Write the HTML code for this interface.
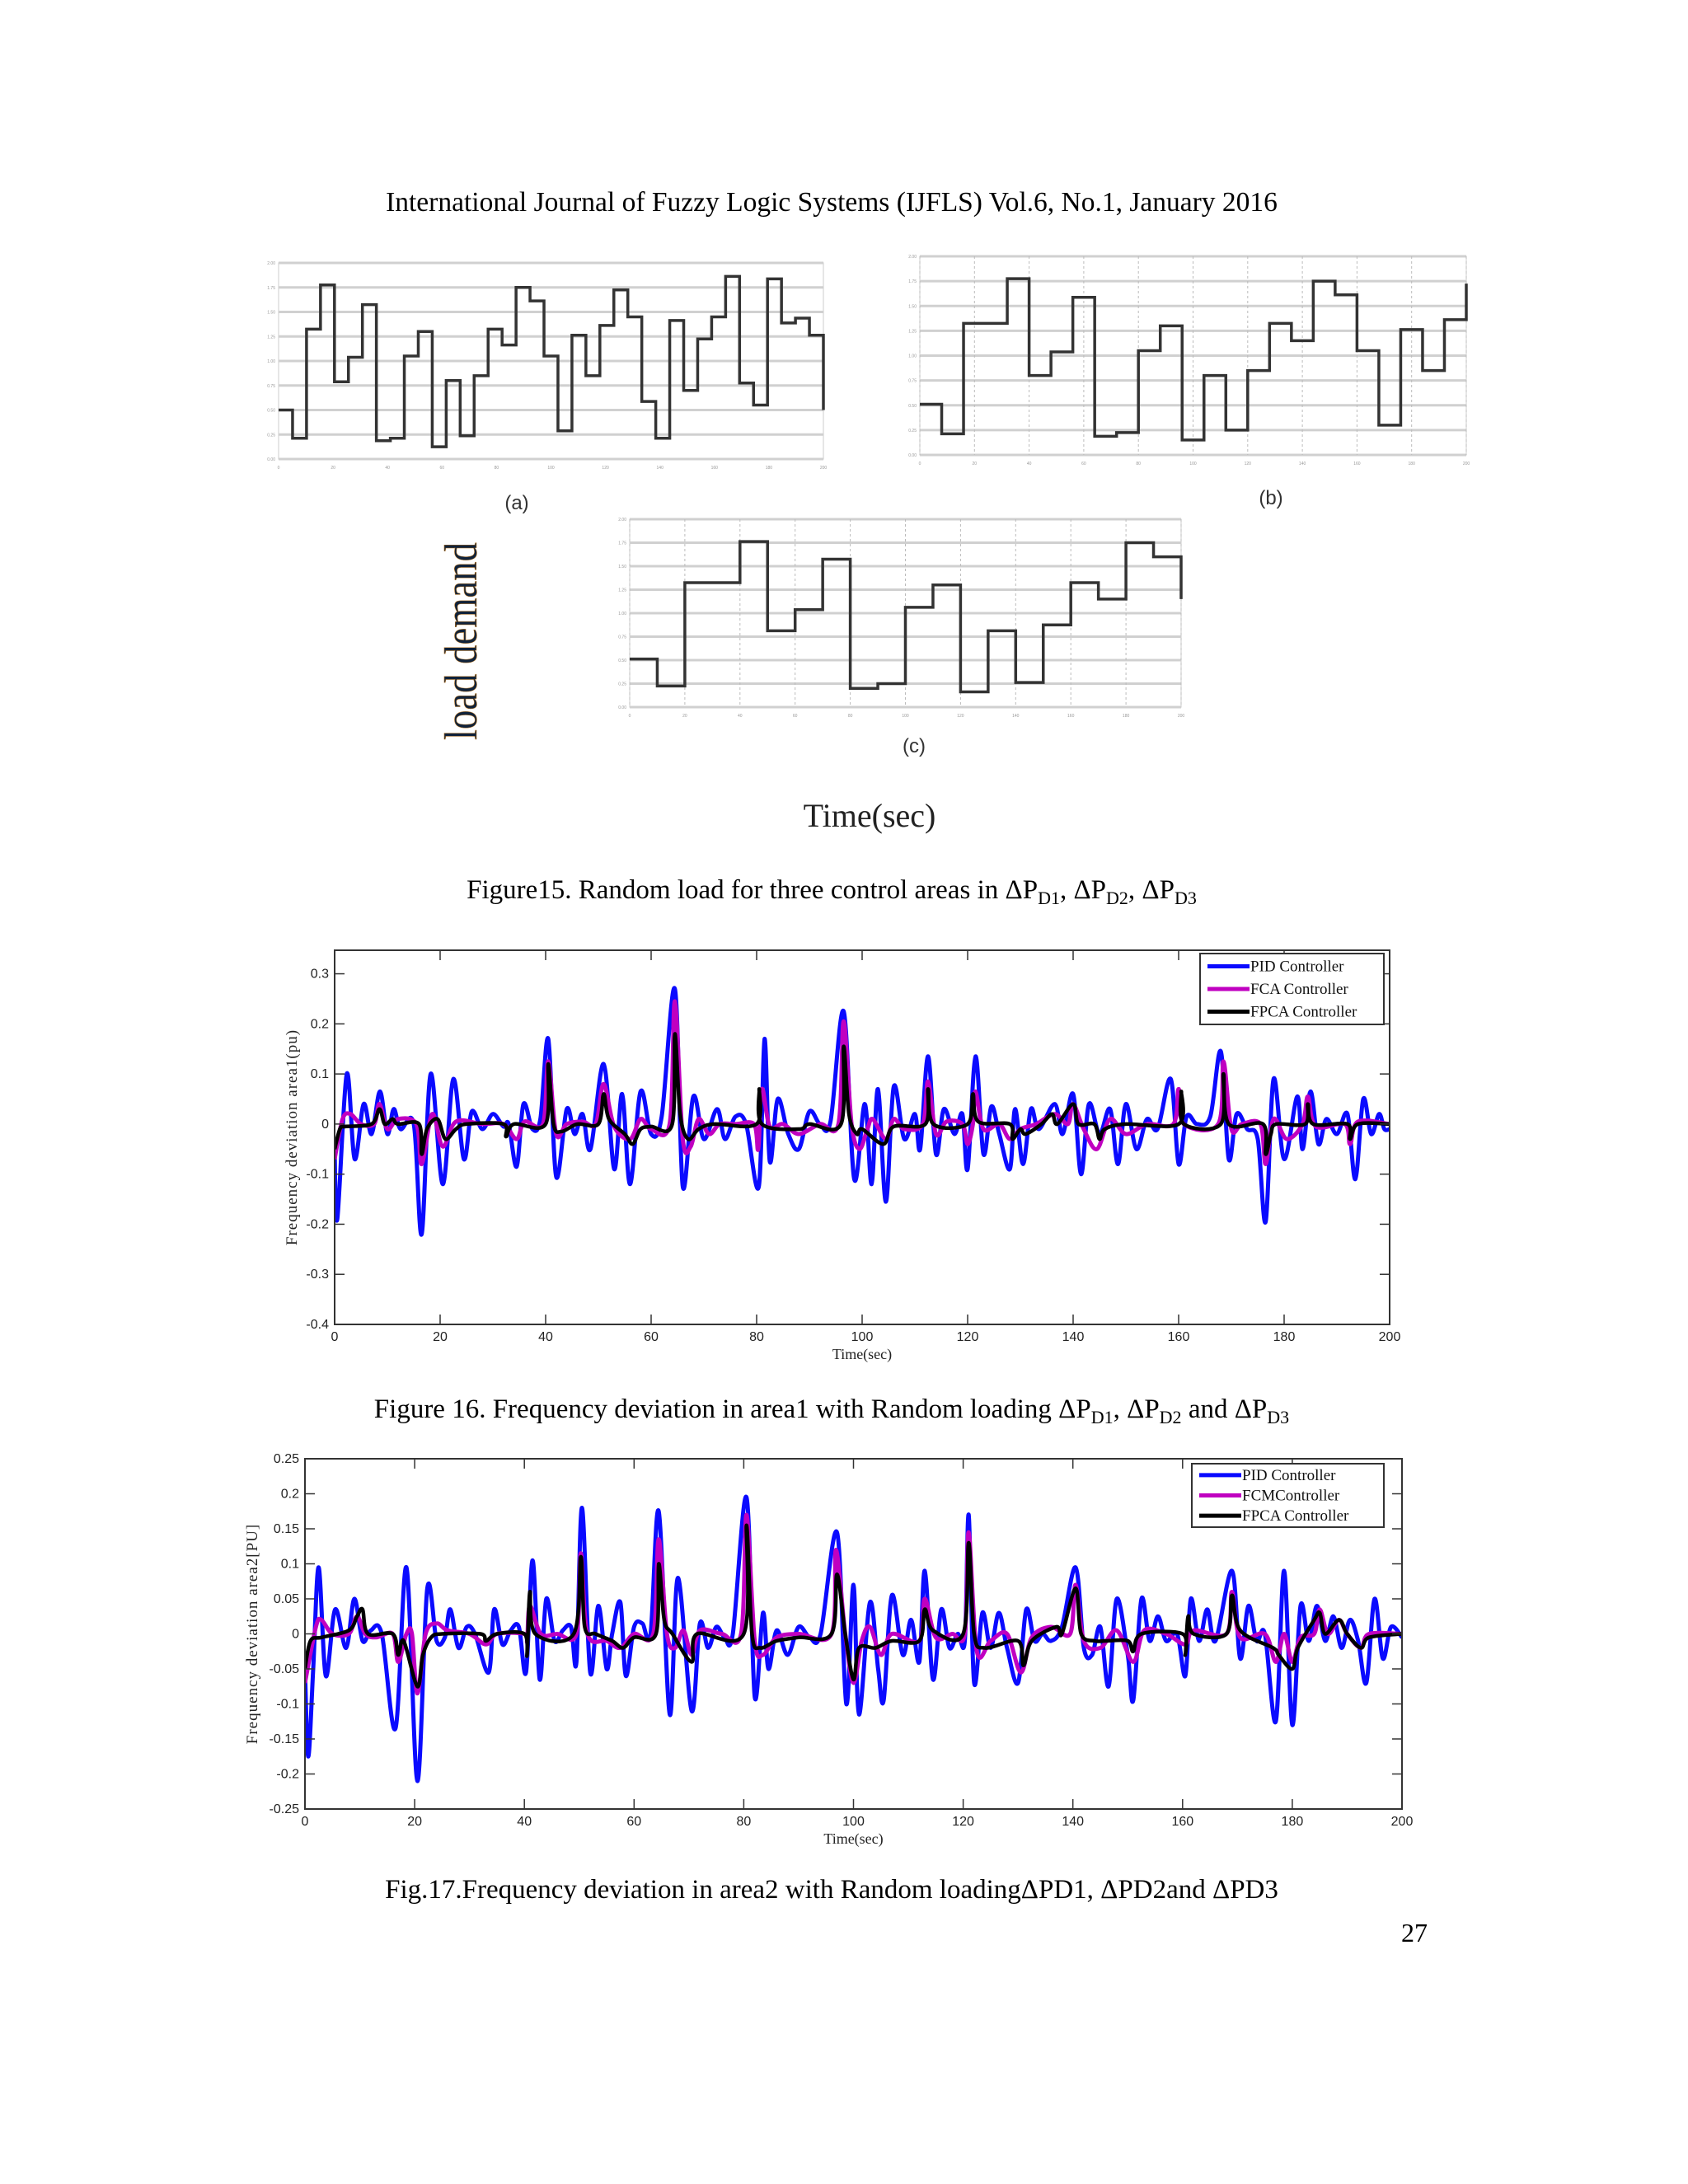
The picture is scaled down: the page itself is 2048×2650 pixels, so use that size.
<!DOCTYPE html>
<html><head><meta charset="utf-8"><style>
html,body{margin:0;padding:0;background:#fff;}
svg{display:block;}
.serif{font-family:"Liberation Serif",serif;}
.sans{font-family:"Liberation Sans",sans-serif;}
</style></head><body>
<svg id="page" width="2048" height="2650" viewBox="0 0 2048 2650" xmlns="http://www.w3.org/2000/svg">
<rect width="2048" height="2650" fill="#fff"/>
<text class="serif" x="1009" y="256" font-size="33.5" text-anchor="middle" fill="#000">International Journal of Fuzzy Logic Systems (IJFLS) Vol.6, No.1, January 2016</text>
<g id="fig15"></g>
<text class="serif" transform="translate(578,778) rotate(-90)" font-size="56" text-anchor="middle" fill="#10223a" stroke="#b07020" stroke-width="0.6" textLength="240" lengthAdjust="spacingAndGlyphs">load demand</text>
<text class="serif" x="1055" y="1003" font-size="40" text-anchor="middle" fill="#222">Time(sec)</text>
<text class="serif" x="1009" y="1090" font-size="33" text-anchor="middle">Figure15. Random load for three control areas in ΔP<tspan font-size="22" dy="7">D1</tspan><tspan dy="-7">, ΔP</tspan><tspan font-size="22" dy="7">D2</tspan><tspan dy="-7">, ΔP</tspan><tspan font-size="22" dy="7">D3</tspan></text>
<g id="fig16"></g>
<text class="serif" x="1009" y="1720" font-size="33" text-anchor="middle">Figure 16. Frequency deviation in area1 with Random loading ΔP<tspan font-size="22" dy="7">D1</tspan><tspan dy="-7">, ΔP</tspan><tspan font-size="22" dy="7">D2</tspan><tspan dy="-7"> and ΔP</tspan><tspan font-size="22" dy="7">D3</tspan></text>
<g id="fig17"></g>
<text class="serif" x="1009" y="2303" font-size="33" text-anchor="middle">Fig.17.Frequency deviation in area2 with Random loadingΔPD1, ΔPD2and ΔPD3</text>
<text class="serif" x="1716" y="2356" font-size="32" text-anchor="middle">27</text>
</svg>
<script>
// ---------- Figure 15 data (step load levels, grid units 0..8) ----------
const loadA = [2.0,0.85,5.3,7.1,3.15,4.15,6.3,0.75,0.85,4.2,5.2,0.5,3.2,0.95,3.4,5.3,4.65,7.0,6.45,4.2,1.15,5.05,3.4,5.45,6.9,5.8,2.35,0.85,5.65,2.8,4.9,5.8,7.45,3.1,2.2,7.35,5.55,5.75,5.05];
const loadB = [2.04,0.85,5.3,5.3,7.1,3.2,4.15,6.35,0.75,0.9,4.2,5.2,0.6,3.2,1.0,3.4,5.3,4.6,7.0,6.45,4.2,1.2,5.05,3.4,5.45];
const loadC = [2.05,0.9,5.3,5.3,7.05,3.25,4.15,6.3,0.8,1.0,4.25,5.2,0.65,3.25,1.05,3.5,5.3,4.6,7.0,6.4];
const loadEndA = 2.0, loadEndB = 6.9, loadEndC = 4.6;

// ---------- Figure 16 data (area1) ----------
const pid1T = [0,0.5,2.3,3.8,5.5,7,8.6,10,11.2,12.5,15,16.5,18.2,20.5,22.5,24.5,26,28,30,32,33,34.5,35.8,37.5,39,40.5,42,44,45.5,47,48.5,51,53,54.5,56,58,60,62,64.5,66,68,70,72.5,74,76,78,80.4,81.5,82.5,84,86,88,90,92,94,96.5,98.5,100.5,101.8,103,104.5,106,108,110,111,112.5,114,115.5,117.5,119,120,121.5,123,124.5,126,128,129,130.5,132,133.5,136.5,138,140,141.5,143,145,147,148.5,150,152,154,156,158.5,160,161.5,163.5,166,168,169.5,171,173,175,176.5,178,180,182.5,183.5,185,186.5,188,190,192,193.5,195,196.5,198,199,200];
const pid1V = [-0.05,-0.19,0.1,-0.07,0.04,-0.02,0.065,-0.02,0.03,-0.01,0,-0.22,0.1,-0.12,0.09,-0.07,0.025,-0.01,0.02,-0.005,0,-0.085,0.04,-0.01,0.01,0.17,-0.105,0.03,-0.02,0.02,-0.05,0.12,-0.09,0.06,-0.12,0.065,-0.02,0.015,0.27,-0.125,0.055,-0.03,0.03,-0.03,0.015,0,-0.125,0.17,-0.075,0.05,-0.02,-0.05,0.025,0,0.005,0.225,-0.11,0.04,-0.12,0.07,-0.155,0.075,-0.03,0.02,-0.05,0.135,-0.06,0.03,-0.02,0.02,-0.09,0.135,-0.06,0.035,-0.02,-0.09,0.03,-0.08,0.03,-0.01,0.04,-0.02,0.06,-0.1,0.04,-0.02,0.03,-0.08,0.04,-0.05,0.01,-0.01,0.09,-0.08,0.015,0,0.015,0.145,-0.07,0.02,-0.01,-0.03,-0.195,0.09,-0.07,0.055,-0.05,0.065,-0.04,0.01,-0.02,0.02,-0.11,0.05,-0.02,0.02,-0.01,-0.01];
const fca1T = [0,1.5,3,5,7.5,8.5,10,12,15.5,16.5,18.5,20.5,23,28,32,34.5,36,39.5,40.5,42,44,47,49.5,51,53,56,58,60,63.5,64.5,66,67.5,69,71,73,76,79.5,80.3,81,82.5,85,88,92,95.5,96.5,98,99.5,101,102,104.5,106,108,111.5,112.5,114,116,119,120,121,121.5,123,126,128,130,133,136.5,139,140,142,144.5,147,150,154,159,160,161,167.5,168.5,170,172,175.5,176.5,178,180.5,183.5,184.5,186,191.5,192.5,194,200];
const fca1V = [-0.07,0.01,0.02,0,0,0.04,-0.01,0.01,0,-0.08,0.02,-0.045,0.005,0,0,-0.03,0.005,0,0.125,-0.02,0,0.005,0,0.08,-0.005,-0.03,0.01,-0.01,0,0.245,-0.03,-0.045,0.01,-0.02,0,0,0,-0.05,0.07,-0.005,0,-0.02,0,0,0.205,0,-0.05,-0.01,0.01,-0.03,0.01,-0.01,0,0.085,-0.02,0.005,0,-0.04,0,0.065,-0.01,0,-0.03,-0.01,0,0.02,0,0.04,-0.01,-0.05,0.01,-0.02,0,0,0.07,0,0,0.125,-0.01,0,0,-0.08,0.01,-0.03,0,0.055,-0.005,0,-0.04,0.005,0];
const fpca1T = [0,1,2,7,8.5,9.5,11,12,16,16.5,17.5,19.5,21,23,25,32,32.5,34,40,40.5,41.5,43,46,50,51,52,55,56.5,58,60,64,64.5,65.5,67,69,72,80,80.5,81,88,90,96,96.5,97.5,99,100,104,106,112,112.5,113.5,120,121,122,128,128.5,130,131,134,136,137,140,141,144,145,146,150,160,160.5,161,168,168.5,169.5,176,176.5,177.5,178.5,184,184.5,185.5,192,192.5,194,200];
const fpca1V = [-0.05,-0.01,-0.005,0,0.03,0,0.01,0,0,-0.06,-0.01,0.01,-0.03,-0.01,0,0,-0.025,0,0,0.12,0,-0.015,0,0,0.06,0.01,-0.02,-0.04,-0.01,-0.005,0,0.18,0.02,-0.03,-0.01,0,0,0.07,0,-0.01,0,0,0.155,0.02,-0.02,-0.01,-0.04,-0.005,0,0.07,0,0,0.06,0.005,0,-0.03,-0.01,-0.02,0,0.02,0,0.04,0,0,-0.03,-0.01,0,0,0.065,0,0,0.1,0,0,-0.06,-0.02,0,0,0.04,0,0,-0.03,0,0];
const yTicks16 = [0.3,0.2,0.1,0,-0.1,-0.2,-0.3,-0.4];
const yTickLabels16 = ["0.3","0.2","0.1","0","-0.1","-0.2","-0.3","-0.4"];
const xTicks = [0,20,40,60,80,100,120,140,160,180,200];
const legend16 = ["PID Controller","FCA Controller","FPCA Controller"];

// ---------- Figure 17 data (area2) ----------
const pid2T = [0,0.6,1.5,2.5,3.8,5.5,7.5,9,10.5,12,14,16.5,18.5,20.5,22.3,24,25.5,26.5,28,29.5,31,33.5,34.5,36,37.5,39,40.3,41.5,42.8,44,45.5,47,48.5,49.5,50.5,52,53.5,55,56,57.5,58.5,60,61.5,63,64.5,66.5,68,70.5,72,73.5,75,76.5,78,80.5,82,83.5,84.5,86,88,90,92,94,97,98.7,100,101,103,104.5,105.5,107,109,110.5,112,113,114.5,116,117.5,119,120.3,121,122,123.5,125,126.5,128,130,131.5,133,134.5,136,138,140.5,142,143.5,145,146.5,148,150,151,152.5,154,155.5,157,159,160.5,161.5,163,164.5,166,169,170.5,172,173.5,175,177,178.5,180,181.5,183,184.5,186,187.5,189,190.5,192,193.5,195,196.5,198,200];
const pid2V = [-0.05,-0.175,-0.05,0.095,-0.06,0.035,-0.02,0.05,-0.01,0.005,0,-0.135,0.095,-0.21,0.065,-0.01,-0.005,0.035,-0.02,0.01,0,-0.055,0.035,-0.015,0.005,0.01,-0.055,0.105,-0.065,0.05,-0.01,0.005,0.01,-0.04,0.18,-0.055,0.04,-0.05,0,0.045,-0.06,0.01,0.015,0,0.175,-0.115,0.08,-0.11,0.015,-0.02,0.01,-0.005,0,0.195,-0.09,0.03,-0.05,0.005,-0.03,0.01,-0.005,0,0.145,-0.1,0.07,-0.115,0.045,-0.05,-0.095,0.055,-0.03,0.02,-0.04,0.09,-0.065,0.035,-0.02,0,-0.01,0.17,-0.07,0.03,-0.02,0.03,-0.02,-0.07,0.035,-0.01,0,-0.01,0.01,0.095,-0.02,-0.03,0.01,-0.075,0.05,-0.03,-0.095,0.05,-0.01,0.025,-0.01,0,-0.06,0.05,-0.01,0.035,-0.01,0.09,-0.035,0.04,-0.01,0,-0.125,0.09,-0.13,0.04,-0.01,0.04,-0.01,0.025,-0.02,0.02,-0.01,-0.07,0.05,-0.035,0.01,-0.005];
const fca2T = [0,2,3,5,8,9.5,11,13,16,17,18.5,19.5,20.5,22,24,26,30,33,35,40,40.5,41,43,46,49.5,50.3,51.5,55,57.5,60,63.5,64.5,66,67.5,69,70.5,72,76,79.5,80.5,82,83.5,86,90,96,96.8,98.5,100,101.5,103,105,107,112,113,115,118,120.3,121,122.5,125,128,130.5,132.5,136,139.5,140.5,142,145,148,151,153,157,160.5,162,168,169,170.5,175,177,178.5,180,181.5,184,185,186.5,188.5,190,192.5,194,200];
const fca2V = [-0.07,0.01,0.02,0,0,0.025,0,-0.005,0,-0.04,0,0,-0.085,0,0.015,0.005,0,-0.015,0,0,-0.01,0.04,0,0,0,0.115,0,-0.01,-0.02,0,0,0.135,0,-0.02,0.005,-0.03,0.005,0,0,0.17,-0.01,-0.03,-0.005,0,0,0.12,0,-0.07,-0.01,0.01,-0.03,0,-0.01,0.05,-0.005,0,0,0.145,-0.025,-0.01,0,-0.055,-0.005,0.01,0,0.07,-0.01,-0.02,0.005,-0.04,0.005,0,-0.015,0.005,0,0.06,-0.005,0,-0.04,0,-0.04,-0.005,0,0.035,0,0.02,0,-0.02,0,0];
const fpca2T = [0,1,3,8,9.5,10.5,11.5,16,17,18,20.5,21.5,23,25,32,33,35,40,40.5,41,42,49,50.3,51,53,56,58,60,64,64.5,65.5,67,70.5,71.5,80,80.5,81.5,83,86,90,96,97,98.5,100,101,104,107,112,113,114.5,120,121,122,124,130,131,132.5,137,138,140.5,141.5,144,146,150,151,152.5,160,160.5,161,162,168,169,170.5,176.5,177.5,180,181,184,185,186,188.5,190,192.5,194,200];
const fpca2V = [-0.05,-0.01,-0.005,0.005,0.025,0.035,0,0,-0.03,-0.01,-0.075,-0.03,-0.005,0,0,-0.01,0,0,-0.03,0.06,0,0,0.11,0.01,0,-0.01,-0.02,-0.005,0,0.1,0.02,0,-0.04,0,0,0.155,0,-0.02,-0.01,-0.005,0,0.085,0,-0.065,-0.02,-0.02,-0.01,-0.01,0.035,0.005,0,0.13,0,-0.02,-0.01,-0.045,-0.01,0.01,0,0.065,0,-0.01,-0.01,-0.01,-0.025,0,0,-0.03,0.025,0,0,0.055,0.005,-0.02,-0.03,-0.05,-0.02,0.02,0.03,0,0.02,0,-0.02,-0.005,0];
const yTicks17 = [0.25,0.2,0.15,0.1,0.05,0,-0.05,-0.1,-0.15,-0.2,-0.25];
const yTickLabels17 = ["0.25","0.2","0.15","0.1","0.05","0","-0.05","-0.1","-0.15","-0.2","-0.25"];
const legend17 = ["PID Controller","FCMController","FPCA Controller"];

const NS = "http://www.w3.org/2000/svg";
function mk(parent, tag, attrs){ const e=document.createElementNS(NS,tag); for(const k in attrs) e.setAttribute(k,attrs[k]); parent.appendChild(e); return e; }

// ---------- Step charts ----------
function stepChart(g, name, x0,x1,y0,y1, levels, endLevel, vgrid){
  const sg = mk(g,'g',{});
  
  
  const yS = v => y1 - v/8*(y1-y0);
  const n = levels.length;
  const xS = i => x0 + i/n*(x1-x0);
  mk(sg,'rect',{x:x0,y:y0,width:x1-x0,height:y1-y0,fill:'#fff',stroke:'#ccc','stroke-width':1});
  for(let k=0;k<=8;k++){ const gl=mk(sg,'line',{x1:x0,x2:x1,y1:yS(k),y2:yS(k),stroke:'#d0d0d0','stroke-width':3});
     
    const t=mk(sg,'text',{x:x0-4,y:yS(k)+2,'font-size':5,'text-anchor':'end',fill:'#999',class:'sans'}); t.textContent=(k*0.25).toFixed(2);}
  for(let k=0;k<=10;k++){ const xx=x0+k/10*(x1-x0);
    if(vgrid){ mk(sg,'line',{x1:xx,x2:xx,y1:y0,y2:y1,stroke:'#bbb','stroke-width':1,'stroke-dasharray':'3,3'}); }
    const t=mk(sg,'text',{x:xx,y:y1+12,'font-size':5,'text-anchor':'middle',fill:'#999',class:'sans'}); t.textContent=String(k*20);}
  let d = `M${xS(0)},${yS(levels[0])}`;
  for(let i=0;i<n;i++){ d += ` L${xS(i)},${yS(levels[i])} L${xS(i+1)},${yS(levels[i])}`; }
  d += ` L${x1},${yS(endLevel)}`;
  const p=mk(sg,'path',{d:d,fill:'none',stroke:'#333','stroke-width':3.5});
   
}
const f15=document.getElementById('fig15');
stepChart(f15,'load-chart-a',338,999,319,557,loadA,loadEndA,false);
stepChart(f15,'load-chart-b',1116,1779,311,552,loadB,loadEndB,true);
stepChart(f15,'load-chart-c',764,1433,630,858,loadC,loadEndC,true);
[[627,618,'(a)'],[1542,612,'(b)'],[1109,913,'(c)']].forEach(a=>{const t=mk(f15,'text',{x:a[0],y:a[1],'font-size':24,'text-anchor':'middle',class:'sans',fill:'#333'});t.textContent=a[2];
   });

// ---------- Line charts ----------
function smoothPath(pts){
  let d=`M${pts[0][0]},${pts[0][1]}`;
  for(let i=0;i<pts.length-1;i++){
    const p0=pts[Math.max(0,i-1)],p1=pts[i],p2=pts[i+1],p3=pts[Math.min(pts.length-1,i+2)];
    const c1x=p1[0]+(p2[0]-p0[0])/6,c1y=p1[1]+(p2[1]-p0[1])/6;
    const c2x=p2[0]-(p3[0]-p1[0])/6,c2y=p2[1]-(p3[1]-p1[1])/6;
    d+=` C${c1x.toFixed(1)},${c1y.toFixed(1)} ${c2x.toFixed(1)},${c2y.toFixed(1)} ${p2[0].toFixed(1)},${p2[1].toFixed(1)}`;
  }
  return d;
}
function lineChart(g, cfg){
  const {x0,x1,y0,y1,ymin,ymax,yT,yL,series,legend,ylabel,lg} = cfg;
  const xS = t => x0 + t/200*(x1-x0);
  const yS = v => y1 - (v-ymin)/(ymax-ymin)*(y1-y0);
  mk(g,'rect',{x:x0,y:y0,width:x1-x0,height:y1-y0,fill:'#fff'});
  const clip = mk(g,'clipPath',{id:cfg.id+'clip'}); mk(clip,'rect',{x:x0,y:y0,width:x1-x0,height:y1-y0});
  const cols=['#0a0aff','#c000c0','#000'];
  const sg=mk(g,'g',{'clip-path':`url(#${cfg.id}clip)`});
  series.forEach((s,i)=>{
    const pts=s[0].map((t,j)=>[xS(t),yS(s[1][j])]);
    const p=mk(sg,'path',{d:smoothPath(pts),fill:'none',stroke:cols[i],'stroke-width':i===2?4.5:5,'stroke-linejoin':'round'});
    
    
  });
  xTicks.forEach(t=>{const x=xS(t);
    mk(g,'line',{x1:x,x2:x,y1:y1,y2:y1-12,stroke:'#333','stroke-width':1.5});
    mk(g,'line',{x1:x,x2:x,y1:y0,y2:y0+12,stroke:'#333','stroke-width':1.5});
    const tl=mk(g,'text',{x:x,y:y1+20,'font-size':16,'text-anchor':'middle',class:'sans',fill:'#222'}); tl.textContent=String(t);
     });
  yT.forEach((v,i)=>{const y=yS(v);
    mk(g,'line',{x1:x0,x2:x0+12,y1:y,y2:y,stroke:'#333','stroke-width':1.5});
    mk(g,'line',{x1:x1,x2:x1-12,y1:y,y2:y,stroke:'#333','stroke-width':1.5});
    const tl=mk(g,'text',{x:x0-7,y:y+5,'font-size':16,'text-anchor':'end',class:'sans',fill:'#222'}); tl.textContent=yL[i];
     });
  mk(g,'rect',{x:x0,y:y0,width:x1-x0,height:y1-y0,fill:'none',stroke:'#333','stroke-width':2});
  const xt=mk(g,'text',{x:(x0+x1)/2,y:y1+42,'font-size':18,'text-anchor':'middle',class:'serif',fill:'#222'}); xt.textContent='Time(sec)';
   
  const yt=mk(g,'text',{transform:`translate(${cfg.ylx},${(y0+y1)/2}) rotate(-90)`,'font-size':19,'text-anchor':'middle',class:'serif',fill:'#222','letter-spacing':1}); yt.textContent=ylabel;
   
  const lgG=mk(g,'g',{});
   
  mk(lgG,'rect',{x:lg.x,y:lg.y,width:lg.w,height:lg.h,fill:'#fff',stroke:'#333','stroke-width':2});
  legend.forEach((name,i)=>{const yy=lg.y+lg.h*(0.18+0.32*i);
    const e=mk(lgG,'g',{});
     
    mk(e,'line',{x1:lg.x+9,x2:lg.x+60,y1:yy,y2:yy,stroke:cols[i],'stroke-width':5});
    const t=mk(e,'text',{x:lg.x+61,y:yy+6,'font-size':19,class:'serif',fill:'#111'}); t.textContent=name;});
}
lineChart(document.getElementById('fig16'),{id:'c16',x0:406,x1:1686,y0:1153,y1:1607,ymin:-0.4,ymax:0.347,yT:yTicks16,yL:yTickLabels16,
  series:[[pid1T,pid1V],[fca1T,fca1V],[fpca1T,fpca1V]],legend:legend16,ylabel:'Frequency deviation area1(pu)',ylx:360,
  lg:{x:1456,y:1157,w:223,h:86}});
lineChart(document.getElementById('fig17'),{id:'c17',x0:370,x1:1701,y0:1770,y1:2195,ymin:-0.25,ymax:0.25,yT:yTicks17,yL:yTickLabels17,
  series:[[pid2T,pid2V],[fca2T,fca2V],[fpca2T,fpca2V]],legend:legend17,ylabel:'Frequency deviation area2[PU]',ylx:312,
  lg:{x:1446,y:1776,w:233,h:77}});
</script>
</body></html>
